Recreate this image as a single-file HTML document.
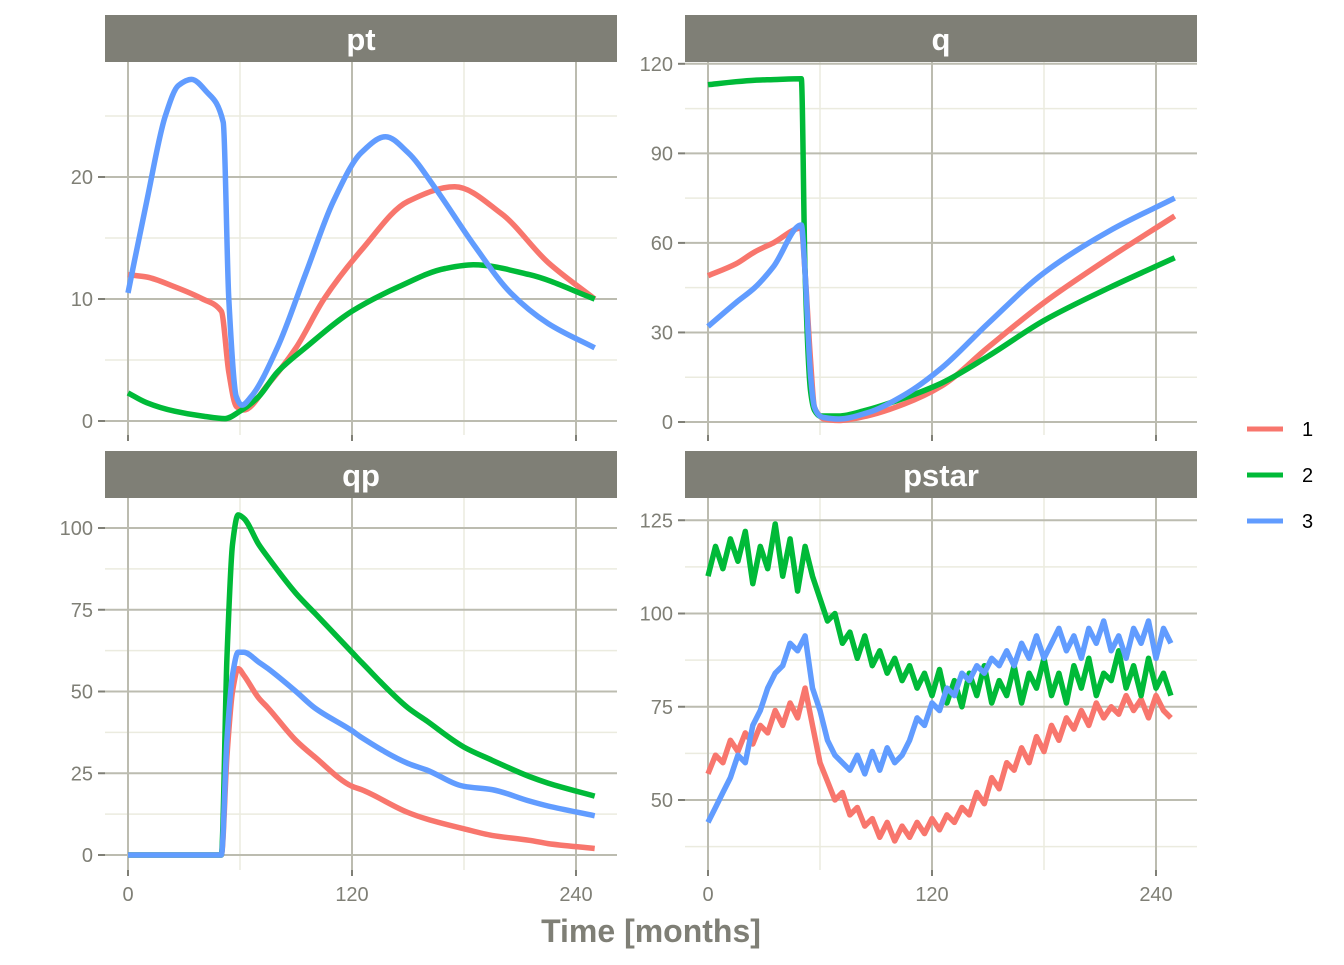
<!DOCTYPE html>
<html><head><meta charset="utf-8"><style>
body{margin:0;background:#fff;width:1344px;height:960px;overflow:hidden}
svg text{font-family:"Liberation Sans",sans-serif}
</style></head><body>
<svg id="c" width="1344" height="960" xmlns="http://www.w3.org/2000/svg"></svg>
<script>
// ---- data ----
const ptT=[0,10,25,40,50,54,58,62,75,90,105,125,150,175,200,225,250];
const ptRed=[12,11.8,11,10,9,4,1.2,0.9,3,6,10,14,18,19.2,17,13,10];
const ptGreenT=[0,10,25,40,52,60,70,80,95,120,145,170,185,215,250];
const ptGreen=[2.3,1.5,0.8,0.4,0.2,0.8,2,4,6,9,11,12.5,12.8,12,10];
const ptBlueT=[0,10,20,27,34,42,51,54,58,61,66,80,95,110,125,138,150,165,185,205,225,250];
const ptBlue=[10.5,18,25,27.5,28,27,24.5,10,2,1.3,2,6,12,18,22,23.3,22,19,14.5,10.5,8,6];
const qT=[0,15,25,35,50,52,55,57,60,62,70,85,105,125,150,180,215,250];
const qRed=[49,53,57,60,65,50,20,5,2,1,0.5,2,6,12,25,40,55,69];
const qGreen=[113,114,114.5,114.7,115,50,10,4,2,2,2,4,8,13,22,34,45,55];
const qBlue=[32,40,45,52,66,50,15,5,2,1.5,1,3,9,18,33,50,64,75];
const qpT=[0,50,53,56,59,62,70,75,90,100,120,125,150,160,180,195,215,225,250];
const qpRed=[0,0,30,50,57,55,48,45,35,30,21,20,13,11,8,6,4.5,3.5,2];
const qpGreen=[0,0,60,95,104,103,95,91,80,74,62,59,45,41,33,29,24,22,18];
const qpBlue=[0,0,35,55,62,62,59,57,50,45,38,36,28,26,21,20,16.5,15,12];
const psStep=4;
const psRed=[57,62,60,66,63,68,65,70,68,74,70,76,72,80,70,60,55,50,52,46,48,43,45,40,44,39,43,40,44,41,45,42,46,44,48,46,52,49,56,53,60,58,64,60,67,63,70,66,72,69,74,70,76,72,75,73,78,74,77,72,78,74,72];
const psGreen=[110,118,112,120,114,122,108,118,112,124,110,120,106,118,110,104,98,100,92,95,88,94,86,90,84,88,82,86,80,84,78,85,76,82,75,84,78,86,76,82,78,86,76,84,80,88,78,84,76,86,80,88,78,84,82,90,80,86,78,88,80,84,78];
const psBlue=[44,48,52,56,62,60,70,74,80,84,86,92,90,94,80,74,66,62,60,58,62,57,63,58,64,60,62,66,72,70,76,74,80,78,84,82,86,84,88,86,90,86,92,88,94,88,92,96,90,94,88,96,92,98,90,94,88,96,92,98,88,96,92];
const xTicks=[0,120,240];
const RED='#F8766D',GREEN='#00BA38',BLUE='#619CFF';
// ---- drawing ----
const svg=document.getElementById('c');const NS='http://www.w3.org/2000/svg';
function mk(tag,attrs,parent){const e=document.createElementNS(NS,tag);for(const k in attrs)e.setAttribute(k,attrs[k]);(parent||svg).appendChild(e);return e;}
function monoPath(X,Y){const n=X.length;if(n<3)return X.map((x,i)=>(i?'L':'M')+x+','+Y[i]).join('');
  const d=[],m=[];for(let i=0;i<n-1;i++)d.push((Y[i+1]-Y[i])/(X[i+1]-X[i]));
  m[0]=d[0];m[n-1]=d[n-2];
  for(let i=1;i<n-1;i++){if(d[i-1]*d[i]<=0)m[i]=0;else{const w1=2*(X[i+1]-X[i])+(X[i]-X[i-1]),w2=(X[i+1]-X[i])+2*(X[i]-X[i-1]);m[i]=(w1+w2)/(w1/d[i-1]+w2/d[i]);}}
  let p='M'+X[0].toFixed(1)+','+Y[0].toFixed(1);
  for(let i=0;i<n-1;i++){const h=X[i+1]-X[i];
    p+='C'+(X[i]+h/3).toFixed(1)+','+(Y[i]+m[i]*h/3).toFixed(1)+' '+(X[i+1]-h/3).toFixed(1)+','+(Y[i+1]-m[i+1]*h/3).toFixed(1)+' '+X[i+1].toFixed(1)+','+Y[i+1].toFixed(1);}
  return p;}
function panel(name,x0,x1,yT,yB,y0px,k,major,minor,series,showX,idx,smooth){
  const g=mk('g',{});
  
  
  const xs=t=>x0+23+t*224/120;const ys=v=>y0px-v*k;
  const cp=mk('clipPath',{id:'cp'+idx},g);mk('rect',{x:x0,y:yT,width:x1-x0,height:yB-yT},cp);
  const gg=mk('g',{'clip-path':'url(#cp'+idx+')'},g);
  minor.forEach(v=>mk('line',{x1:x0,x2:x1,y1:ys(v),y2:ys(v),stroke:'#ebebdf','stroke-width':1.5},gg));
  [60,180].forEach(t=>mk('line',{x1:xs(t),x2:xs(t),y1:yT,y2:yB,stroke:'#ebebdf','stroke-width':1.5},gg));
  major.forEach(v=>mk('line',{x1:x0,x2:x1,y1:ys(v),y2:ys(v),stroke:'#bcbcb0','stroke-width':2},gg));
  xTicks.forEach(t=>mk('line',{x1:xs(t),x2:xs(t),y1:yT,y2:yB,stroke:'#bcbcb0','stroke-width':2},gg));
  major.forEach(v=>{const y=ys(v);if(y<yT-2||y>yB+2)return;
    mk('line',{x1:x0-7,x2:x0,y1:y,y2:y,stroke:'#7f7f76','stroke-width':2},g);
    const t=mk('text',{x:x0-12,y:y+7,'text-anchor':'end','font-size':20,fill:'#7f7f76'},g);t.textContent=v;
    
    });
  xTicks.forEach(tv=>{mk('line',{x1:xs(tv),x2:xs(tv),y1:yB,y2:yB+6,stroke:'#7f7f76','stroke-width':2},g);
    if(showX){const t=mk('text',{x:xs(tv),y:yB+31,'text-anchor':'middle','font-size':20,fill:'#7f7f76'},g);t.textContent=tv;
    
    }});
  series.forEach(s=>{const X=s.t.map(xs),Y=s.v.map(ys);
    const d=smooth?monoPath(X,Y):X.map((x,i)=>(i?'L':'M')+x.toFixed(1)+','+Y[i].toFixed(1)).join('');
    const p=mk('path',{d:d,fill:'none',stroke:s.c,'stroke-width':5.5,'stroke-linejoin':'round'},gg);
    
    });
  const sr=mk('rect',{x:x0,y:yT-47,width:x1-x0,height:47,fill:'#7f7f76'},g);
  
  
  const st=mk('text',{x:(x0+x1)/2,y:yT-12,'text-anchor':'middle','font-size':31,'font-weight':'bold',fill:'#fff'},g);st.textContent=name;
  
  
}
const psT=psRed.map((_,i)=>i*psStep);
panel('pt',105,617,62,435,421,12.2,[0,10,20],[5,15,25],[
 {t:ptT,v:ptRed,c:RED,n:1},{t:ptGreenT,v:ptGreen,c:GREEN,n:2},{t:ptBlueT,v:ptBlue,c:BLUE,n:3}],false,0,true);
panel('q',685,1197,62,435,422,2.985,[0,30,60,90,120],[15,45,75,105],[
 {t:qT,v:qRed,c:RED,n:1},{t:qT,v:qGreen,c:GREEN,n:2},{t:qT,v:qBlue,c:BLUE,n:3}],false,1,true);
panel('qp',105,617,498,870,855,3.27,[0,25,50,75,100],[12.5,37.5,62.5,87.5],[
 {t:qpT,v:qpRed,c:RED,n:1},{t:qpT,v:qpGreen,c:GREEN,n:2},{t:qpT,v:qpBlue,c:BLUE,n:3}],true,2,true);
panel('pstar',685,1197,498,870,800+50*3.73,3.73,[50,75,100,125],[37.5,62.5,87.5,112.5],[
 {t:psT,v:psRed,c:RED,n:1},{t:psT,v:psGreen,c:GREEN,n:2},{t:psT,v:psBlue,c:BLUE,n:3}],true,3,false);
const xl=mk('text',{x:651,y:942,'text-anchor':'middle','font-size':32,'font-weight':'bold',fill:'#7f7f76'});xl.textContent='Time [months]';


[[RED,'1',429],[GREEN,'2',475],[BLUE,'3',521]].forEach(([c,l,y])=>{
 const g=mk('g',{});
 
 
 mk('line',{x1:1247,x2:1283,y1:y,y2:y,stroke:c,'stroke-width':5},g);
 const t=mk('text',{x:1302,y:y+7,'font-size':20,fill:'#000'},g);t.textContent=l;});
</script>
</body></html>
